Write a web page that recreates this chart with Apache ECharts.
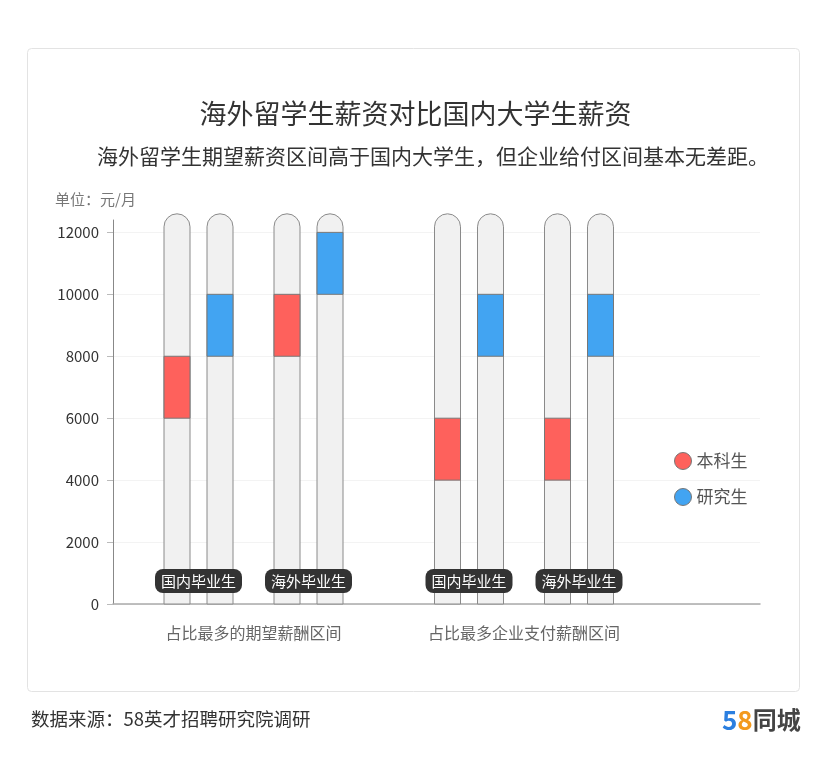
<!DOCTYPE html>
<html>
<head>
<meta charset="utf-8">
<script src="https://cdn.jsdelivr.net/npm/echarts@6/dist/echarts.min.js"></script>
<style>
html,body{margin:0;padding:0;background:#fff;}
#chart{width:831px;height:773px;}
</style>
</head>
<body>
<div id="chart"></div>
<script>
// ---- data ----
var groups = ['占比最多的期望薪酬区间', '占比最多企业支付薪酬区间'];
var pairNames = ['国内毕业生', '海外毕业生'];
var degreeNames = ['本科生', '研究生'];
// order: [期望-国内, 期望-海外, 支付-国内, 支付-海外]
var undergradLow  = [6000, 8000, 4000, 4000];
var undergradHigh = [8000, 10000, 6000, 6000];
var gradLow  = [8000, 10000, 8000, 8000];
var gradHigh = [10000, 12000, 10000, 10000];
var trackTop = 12600;
var yTicks = [0, 2000, 4000, 6000, 8000, 10000, 12000];

// ---- layout constants ----
var FONT = '"Noto Sans CJK SC","Noto Sans",sans-serif';
var PAIR_OFF = 55, BAR_OFF = 21.5, BAR_W = 26;
var colors = ['#fe615c', '#42a4f2'];

function barX(api, group, pair, degree) {
  var c = api.coord([group, 0])[0];
  return c + (pair ? PAIR_OFF : -PAIR_OFF) + (degree ? BAR_OFF : -BAR_OFF);
}

var trackData = [], labelData = [], ugData = [], grData = [];
for (var i = 0; i < 4; i++) {
  var g = Math.floor(i / 2), p = i % 2;
  trackData.push([g, p, 0, trackTop]);
  trackData.push([g, p, 1, trackTop]);
  labelData.push([g, p, 0]);
  ugData.push([g, p, 0, undergradLow[i], undergradHigh[i]]);
  grData.push([g, p, 1, gradLow[i], gradHigh[i]]);
}

var chart = echarts.init(document.getElementById('chart'));
chart.setOption({
  backgroundColor: '#fff',
  animation: false,
  textStyle: {fontFamily: FONT},
  graphic: [{
    type: 'rect', z: -10, silent: true,
    shape: {x: 27.5, y: 48.5, width: 772, height: 643, r: 4},
    style: {fill: '#fff', stroke: '#e3e3e3', lineWidth: 1}
  }],
  title: [
    {text: '海外留学生薪资对比国内大学生薪资', left: 'center', top: 95,
     textStyle: {fontSize: 27, fontWeight: 'normal', color: '#333', fontFamily: FONT}},
    {text: '海外留学生期望薪资区间高于国内大学生，但企业给付区间基本无差距。', left: 92, top: 141,
     textStyle: {fontSize: 21, fontWeight: 'normal', color: '#333', fontFamily: FONT}},
    {text: '单位：元/月', left: 50, top: 187,
     textStyle: {fontSize: 15, fontWeight: 'normal', color: '#777', fontFamily: FONT}},
    {text: '数据来源：58英才招聘研究院调研', left: 26, top: 705,
     textStyle: {fontSize: 18.5, fontWeight: 'normal', color: '#333', fontFamily: FONT}},
    {text: '{a|5}{b|8}{c|同城}', left: 717, top: 702,
     textStyle: {rich: {
       a: {fontSize: 26, fontWeight: 'bold', color: '#2b7fe0', fontFamily: FONT},
       b: {fontSize: 26, fontWeight: 'bold', color: '#f39a1e', fontFamily: FONT},
       c: {fontSize: 24, fontWeight: 'bold', color: '#444', fontFamily: FONT}
     }}}
  ],
  legend: {
    data: degreeNames, orient: 'vertical', left: 669, top: 447,
    icon: 'circle', itemWidth: 17, itemHeight: 17, itemGap: 18,
    itemStyle: {borderColor: '#777', borderWidth: 1},
    textStyle: {fontSize: 17, color: '#555', fontFamily: FONT}
  },
  grid: [
    {left: 113, right: 71, top: 220, bottom: 169},
    {left: 118.25, width: 541, top: 220, bottom: 169}
  ],
  xAxis: [
    {type: 'category', gridIndex: 0, data: [''],
     axisLine: {lineStyle: {color: '#aaa', width: 1.5}},
     axisTick: {show: false}, axisLabel: {show: false}, splitLine: {show: false}},
    {type: 'category', gridIndex: 1, data: groups,
     axisLine: {show: false}, axisTick: {show: false},
     axisLabel: {margin: 21, fontSize: 16, color: '#666', fontFamily: FONT}}
  ],
  yAxis: [
    {type: 'value', gridIndex: 0, min: yTicks[0], max: 12400, interval: yTicks[1] - yTicks[0],
     axisLine: {show: true, lineStyle: {color: '#888'}},
     axisTick: {show: true, length: 6, lineStyle: {color: '#bbb'}},
     axisLabel: {showMaxLabel: false, margin: 14, fontSize: 15, color: '#333', fontFamily: FONT,
       formatter: function (v) { return String(v); }},
     splitLine: {show: true, showMaxLine: false, lineStyle: {color: '#f3f3f3'}}},
    {type: 'value', gridIndex: 1, min: 0, max: 12400, show: false, splitLine: {show: false}}
  ],
  series: [
    {
      type: 'custom', name: 'track', xAxisIndex: 1, yAxisIndex: 1, clip: false, z: 1,
      data: trackData,
      renderItem: function (params, api) {
        var x = barX(api, api.value(0), api.value(1), api.value(2));
        var top = api.coord([0, api.value(3)])[1];
        var base = api.coord([0, 0])[1];
        return {type: 'rect',
          shape: {x: x - BAR_W / 2, y: top, width: BAR_W, height: base - top, r: [13, 13, 0, 0]},
          style: {fill: '#f1f1f1', stroke: '#8a8a8a', lineWidth: 1}};
      }
    },
    {
      type: 'custom', name: degreeNames[0], xAxisIndex: 1, yAxisIndex: 1, z: 2,
      itemStyle: {color: colors[0], borderColor: '#777', borderWidth: 1},
      data: ugData,
      renderItem: function (params, api) {
        var x = barX(api, api.value(0), api.value(1), api.value(2));
        var lo = api.coord([0, api.value(3)])[1];
        var hi = api.coord([0, api.value(4)])[1];
        return {type: 'rect',
          shape: {x: x - BAR_W / 2, y: hi, width: BAR_W, height: lo - hi},
          style: {fill: colors[0], stroke: '#777', lineWidth: 1}};
      }
    },
    {
      type: 'custom', name: degreeNames[1], xAxisIndex: 1, yAxisIndex: 1, z: 2,
      itemStyle: {color: colors[1], borderColor: '#777', borderWidth: 1},
      data: grData,
      renderItem: function (params, api) {
        var x = barX(api, api.value(0), api.value(1), api.value(2));
        var lo = api.coord([0, api.value(3)])[1];
        var hi = api.coord([0, api.value(4)])[1];
        return {type: 'rect',
          shape: {x: x - BAR_W / 2, y: hi, width: BAR_W, height: lo - hi},
          style: {fill: colors[1], stroke: '#777', lineWidth: 1}};
      }
    },
    {
      type: 'custom', name: 'pairLabels', xAxisIndex: 1, yAxisIndex: 1, clip: false, z: 5,
      data: labelData,
      renderItem: function (params, api) {
        var c = api.coord([api.value(0), 0]);
        var x = c[0] + (api.value(1) ? PAIR_OFF : -PAIR_OFF);
        return {type: 'text', z2: 10,
          style: {text: pairNames[api.value(1)], x: x, y: c[1] - 23,
            align: 'center', verticalAlign: 'middle',
            fill: '#fff', fontSize: 15, fontFamily: FONT,
            backgroundColor: '#333', padding: [5, 6, 4, 6], borderRadius: 8}};
      }
    }
  ]
});
</script>
</body>
</html>
